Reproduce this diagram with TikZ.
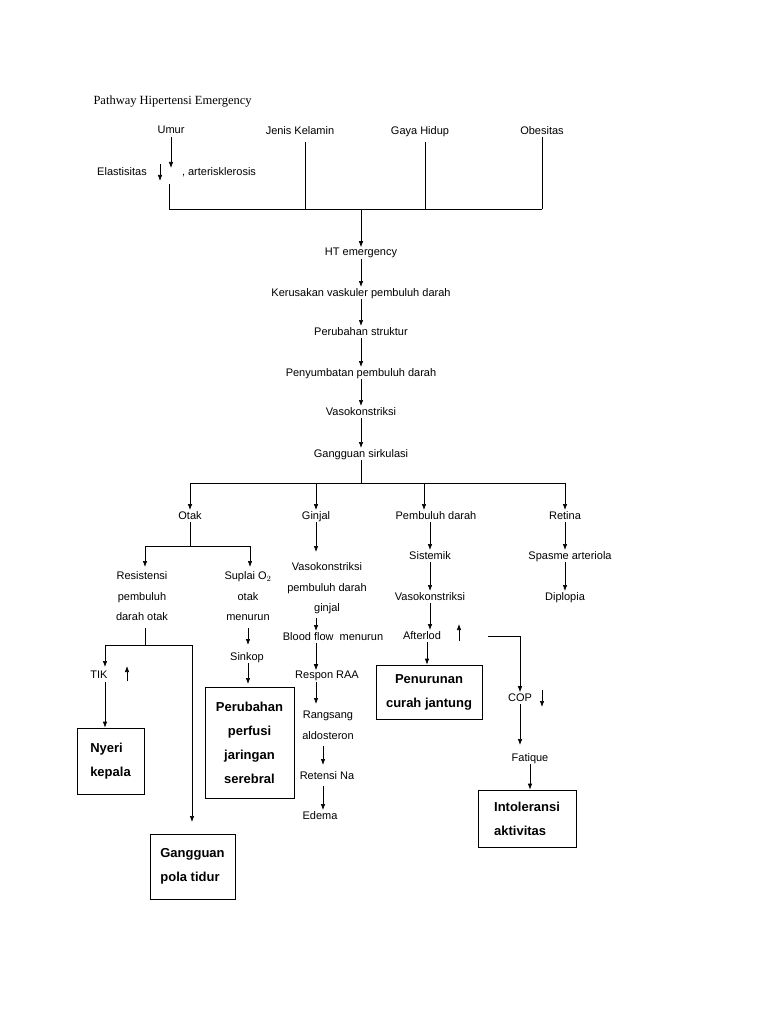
\documentclass[tikz,border=0pt]{standalone}
\usepackage{fontspec}
\setmainfont{Liberation Sans}
\newfontfamily\titlefont{Liberation Serif}
\usetikzlibrary{arrows.meta}
\begin{document}
\begin{tikzpicture}[x=1pt,y=-1pt,
  t/.style={inner sep=1pt,align=center,text depth=0.3ex,font=\fontsize{11}{20.5}\selectfont},
  bx/.style={draw,line width=0.7pt,align=left,inner sep=0pt,font=\fontsize{13}{24}\selectfont\bfseries},
  ar/.style={-{Latex[length=6pt,width=4.5pt]},line width=0.7pt},
  ln/.style={line width=0.7pt}]
\useasboundingbox (0,0) rectangle (768,1024);
% title
\node[anchor=west,font=\titlefont\fontsize{12.5}{14}\selectfont] at (90,102) {Pathway Hipertensi Emergency};
% top factors
\node[t] (umur) at (171,131) {Umur};
\node[t] (jk) at (300,131) {Jenis Kelamin};
\node[t] (gh) at (420,131) {Gaya Hidup};
\node[t] (ob) at (542,131) {Obesitas};
\node[t] (el) at (122,172) {Elastisitas};
\node[t] (ar1) at (219,172) {, arterisklerosis};
\coordinate (ua) at (171,168);
\coordinate (eb) at (160,181);
\coordinate (et) at (160,164);
\draw[ar] (umur) -- (ua);
\draw[ar] (et) -- (eb);
\coordinate (b1) at (169,209);
\coordinate (b2) at (305,209);
\coordinate (b3) at (425,209);
\coordinate (b4) at (542,209);
\coordinate (bm) at (361,209);
\draw[ln] (169,184) -- (b1) -- (b4);
\draw[ln] (305,142) -- (b2);
\draw[ln] (425,142) -- (b3);
\draw[ln] (ob) -- (b4);
% main chain
\node[t] (ht) at (361,253) {HT emergency};
\node[t] (kv) at (361,293) {Kerusakan vaskuler pembuluh darah};
\node[t] (ps) at (361,332) {Perubahan struktur};
\node[t] (pp) at (361,373) {Penyumbatan pembuluh darah};
\node[t] (vk) at (361,412) {Vasokonstriksi};
\node[t] (gs) at (361,454) {Gangguan sirkulasi};
\draw[ar] (bm) -- (ht);
\draw[ar] (ht) -- (kv);
\draw[ar] (kv) -- (ps);
\draw[ar] (ps) -- (pp);
\draw[ar] (pp) -- (vk);
\draw[ar] (vk) -- (gs);
% organ bus
\coordinate (o0) at (361,483);
\coordinate (oa) at (190,483);
\coordinate (ob2) at (316,483);
\coordinate (oc) at (424,483);
\coordinate (od) at (565,483);
\draw[ln] (gs) -- (o0);
\draw[ln] (oa) -- (od);
\node[t] (otak) at (190,516) {Otak};
\node[t] (ginjal) at (316,516) {Ginjal};
\node[t] (pd) at (436,516) {Pembuluh darah};
\node[t] (ret) at (565,516) {Retina};
\draw[ar] (oa) -- (otak);
\draw[ar] (ob2) -- (ginjal);
\draw[ar] (oc) -- (pd.north -| oc);
\draw[ar] (od) -- (ret);
% otak branch
\coordinate (ot1) at (190,546);
\coordinate (otl) at (145,546);
\coordinate (otr) at (250,546);
\draw[ln] (otak) -- (ot1);
\draw[ln] (otl) -- (otr);
\node[t] (res) at (142,597) {Resistensi\\pembuluh\\darah otak};
\node[t] (sup) at (248,597) {Suplai O$_2$\\otak\\menurun};
\draw[ar] (otl) -- (145,567);
\draw[ar] (otr) -- (250,567);
\coordinate (r1) at (145,645);
\coordinate (rl) at (105,645);
\coordinate (rr) at (192,645);
\coordinate (rre) at (192,822);
\draw[ln] (145,628) -- (r1);
\draw[ln] (rl) -- (rr);
\node[t] (tik) at (99,676) {TIK};
\draw[ar] (127,681) -- (127,666);
\draw[ar] (rl) -- (105,667);
\node[bx,minimum width=67pt,minimum height=66pt] (nyeri) at (110.5,761) {Nyeri\\kepala};
\draw[ar] (tik.south -| rl) -- (nyeri.north -| rl);
\node[bx,minimum width=85pt,minimum height=65pt] (gpt) at (192.5,866.5) {Gangguan\\pola tidur};
\draw[ar] (rr) -- (rre);
\node[t] (sink) at (247,657) {Sinkop};
\draw[ar] (248,628) -- (248,645);
\node[bx,align=center,minimum width=89pt,minimum height=111pt] (pjs) at (249.5,742.5) {Perubahan\\perfusi\\jaringan\\serebral};
\draw[ar] (sink.south -| 248,0) -- (248,684);
% ginjal branch
\node[t] (vpg) at (327,588) {Vasokonstriksi\\pembuluh darah\\ginjal};
\node[t] (bf) at (333,637) {Blood flow\ \ menurun};
\node[t] (raa) at (327,676) {Respon RAA};
\node[t] (ral) at (328,726) {Rangsang\\aldosteron};
\node[t] (rna) at (327,776) {Retensi Na};
\node[t] (ed) at (320,816) {Edema};
\draw[ar] (ginjal) -- (316,552);
\draw[ar] (316,618) -- (bf.north -| 316,0);
\draw[ar] (bf.south -| 316,0) -- (raa.north -| 316,0);
\draw[ar] (raa.south -| 316,0) -- (316,704);
\draw[ar] (323,746) -- (323,765);
\draw[ar] (323,786) -- (ed.north -| 323,0);
% pembuluh darah branch
\node[t] (sis) at (430,556) {Sistemik};
\node[t] (vk2) at (430,597) {Vasokonstriksi};
\node[t] (aft) at (422,636) {Afterlod};
\draw[ar] (pd.south -| sis) -- (sis);
\draw[ar] (sis) -- (vk2);
\draw[ar] (vk2) -- (vk2.center |- aft.north);
\draw[ar] (459,641) -- (459,624);
\node[bx,align=center,minimum width=106pt,minimum height=54pt] (pcj) at (429,692) {Penurunan\\curah jantung};
\draw[ar] (aft.south -| 427,0) -- (pcj.north -| 427,0);
\coordinate (c1) at (488,636);
\coordinate (c2) at (520,636);
\node[t] (cop) at (520,698) {COP};
\draw[ln] (c1) -- (c2);
\draw[ar] (c2) -- (cop);
\draw[ar] (542,690) -- (542,707);
\node[t] (fat) at (530,758) {Fatique};
\draw[ar] (cop) -- (520,745);
\node[bx,minimum width=98pt,minimum height=57pt] (ia) at (527,818.5) {Intoleransi\\aktivitas};
\draw[ar] (fat) -- (ia.north -| fat);
% retina branch
\node[t] (spa) at (570,556) {Spasme arteriola};
\node[t] (dip) at (565,597) {Diplopia};
\draw[ar] (ret) -- (spa.north -| ret);
\draw[ar] (spa.south -| ret) -- (dip);
\end{tikzpicture}
\end{document}
